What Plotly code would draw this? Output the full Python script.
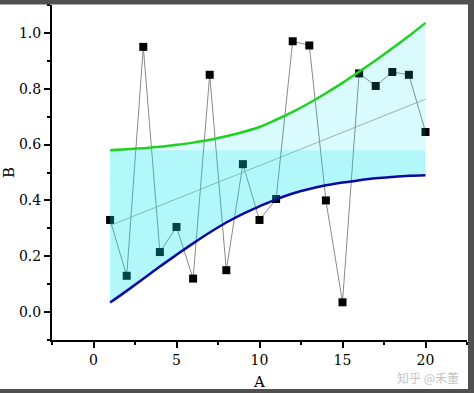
import plotly.graph_objects as go

# ---- data ----
x_vals = list(range(1, 21))
b_vals = [0.33, 0.13, 0.95, 0.215, 0.305, 0.12, 0.85, 0.15, 0.53, 0.33,
          0.405, 0.97, 0.955, 0.40, 0.035, 0.855, 0.81, 0.86, 0.85, 0.645]
upper_vals = [0.580, 0.583, 0.587, 0.592, 0.599, 0.607, 0.617, 0.630, 0.645, 0.663,
              0.689, 0.717, 0.749, 0.784, 0.821, 0.861, 0.902, 0.945, 0.989, 1.036]
lower_vals = [0.034, 0.076, 0.119, 0.163, 0.205, 0.246, 0.285, 0.321, 0.352, 0.379,
              0.404, 0.425, 0.441, 0.454, 0.464, 0.472, 0.479, 0.484, 0.488, 0.490]
trend_x = [1, 20]
trend_y = [0.31, 0.763]
band_split = 0.58
split_vals = [band_split] * len(x_vals)

x_ticks = [0, 5, 10, 15, 20]
y_ticks = [0.0, 0.2, 0.4, 0.6, 0.8, 1.0]
y_ticklabels = ["0.0", "0.2", "0.4", "0.6", "0.8", "1.0"]

fig = go.Figure()

# data line and markers (drawn first; fills sit over them)
fig.add_trace(go.Scatter(x=x_vals, y=b_vals, mode="lines+markers",
                         line=dict(color="#8a8a8a", width=1),
                         marker=dict(symbol="square", size=8, color="black"),
                         showlegend=False))
# trend line
fig.add_trace(go.Scatter(x=trend_x, y=trend_y, mode="lines",
                         line=dict(color="#999999", width=0.8), showlegend=False))

# darker fill: lower curve up to split level
fig.add_trace(go.Scatter(x=x_vals, y=lower_vals, mode="lines",
                         line=dict(width=0, color="rgba(0,0,0,0)", shape="spline"),
                         showlegend=False, hoverinfo="skip"))
fig.add_trace(go.Scatter(x=x_vals, y=split_vals, mode="lines", fill="tonexty",
                         fillcolor="rgba(0,230,240,0.30)",
                         line=dict(width=0, color="rgba(0,0,0,0)"), showlegend=False,
                         hoverinfo="skip"))
# lighter fill: split level up to upper curve
fig.add_trace(go.Scatter(x=x_vals, y=split_vals, mode="lines",
                         line=dict(width=0, color="rgba(0,0,0,0)"), showlegend=False,
                         hoverinfo="skip"))
fig.add_trace(go.Scatter(x=x_vals, y=upper_vals, mode="lines", fill="tonexty",
                         fillcolor="rgba(0,230,240,0.15)",
                         line=dict(width=0, color="rgba(0,0,0,0)", shape="spline"),
                         showlegend=False, hoverinfo="skip"))

# boundary curves
fig.add_trace(go.Scatter(x=x_vals, y=upper_vals, mode="lines",
                         line=dict(color="#22d022", width=2.5, shape="spline"),
                         showlegend=False))
fig.add_trace(go.Scatter(x=x_vals, y=lower_vals, mode="lines",
                         line=dict(color="#0a0aa0", width=2.5, shape="spline"),
                         showlegend=False))

axis_font = dict(family="DejaVu Serif", size=14, color="black")

fig.update_xaxes(range=[-2.5, 22.5], tickvals=x_ticks, ticks="outside", ticklen=6,
                 tickwidth=2, tickcolor="black", showline=True, linecolor="black",
                 linewidth=2, showgrid=False, zeroline=False, tickfont=axis_font,
                 automargin=False,
                 minor=dict(dtick=2.5, tick0=0, ticks="outside", ticklen=3,
                            tickwidth=2, tickcolor="black", showgrid=False),
                 title=dict(text="A", font=dict(family="DejaVu Serif", size=15,
                                                 color="black"), standoff=10))
fig.update_yaxes(range=[-0.1, 1.1], tickvals=y_ticks, ticktext=y_ticklabels,
                 ticks="outside", ticklen=6, tickwidth=2, tickcolor="black",
                 showline=True, linecolor="black", linewidth=2, showgrid=False,
                 zeroline=False, tickfont=axis_font, automargin=False,
                 minor=dict(dtick=0.1, tick0=0, ticks="outside", ticklen=3,
                            tickwidth=2, tickcolor="black", showgrid=False),
                 title=dict(text="B", font=dict(family="DejaVu Serif", size=15,
                                                 color="black"), standoff=8))

plot_h = 393 - 5 - 53
plot_w = 474 - 52 - 7
border = "#505050"
shapes = [
    dict(type="rect", xref="paper", yref="paper", x0=-52 / plot_w, x1=1 + 7 / plot_w,
         y0=1 + 0.5 / plot_h, y1=1 + 5 / plot_h, fillcolor=border, line=dict(width=0)),
    dict(type="rect", xref="paper", yref="paper", x0=-52 / plot_w, x1=1 + 7 / plot_w,
         y0=-53 / plot_h, y1=-49 / plot_h, fillcolor=border, line=dict(width=0)),
    dict(type="rect", xref="paper", yref="paper", x0=1 + 1 / plot_w, x1=1 + 7 / plot_w,
         y0=-53 / plot_h, y1=1 + 5 / plot_h, fillcolor=border, line=dict(width=0)),
]

fig.update_layout(
    width=474, height=393,
    margin=dict(l=52, r=7, t=5, b=53),
    paper_bgcolor="white", plot_bgcolor="white",
    shapes=shapes,
    annotations=[dict(text="知乎 @禾董", xref="paper", yref="paper",
                      x=1 - 6 / plot_w, y=-37 / plot_h, xanchor="right", yanchor="middle",
                      showarrow=False,
                      font=dict(family="Noto Sans CJK SC", size=12, color="#c4c4c4"))],
)

fig.write_html("out.html", config={"displayModeBar": False},
               post_script="document.body.style.margin='0';document.body.style.padding='0';")
